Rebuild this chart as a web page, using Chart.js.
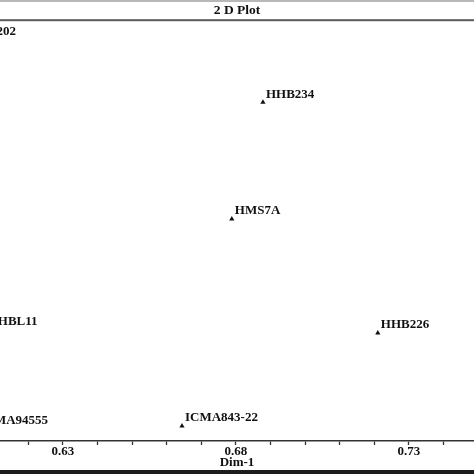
<!DOCTYPE html>
<html>
<head>
<meta charset="utf-8">
<script src="https://cdn.jsdelivr.net/npm/chart.js@4/dist/chart.umd.min.js"></script>
<style>
  html, body { margin: 0; padding: 0; background: #fff; }
  #wrap { width: 474px; height: 474px; }
</style>
</head>
<body>
<div id="wrap"><canvas id="plot" width="474" height="474"></canvas></div>
<script>
// Genotypes and their coordinates (Dim-1, Dim-2)
const names = ["HHB202", "HHB234", "HMS7A", "HBL11", "HHB226", "ICMA94555", "ICMA843-22"];
const dim1 = [0.6016, 0.6878, 0.6788, 0.6103, 0.7210, 0.6050, 0.6644];
const dim2 = [0.744, 0.723, 0.684, 0.647, 0.646, 0.614, 0.615];
const labelTicks = [0.63, 0.68, 0.73];

const serif = "'Liberation Serif', 'Times New Roman', serif";

// Cadre: bande grise en haut, trait sous le titre, bande noire en bas
const framePlugin = {
  id: "frame",
  beforeDraw(chart) {
    const ctx = chart.ctx;
    ctx.save();
    ctx.fillStyle = "#fff";
    ctx.fillRect(0, 0, chart.width, chart.height);
    ctx.restore();
  },
  afterDraw(chart) {
    const ctx = chart.ctx;
    const area = chart.chartArea;
    ctx.save();
    ctx.fillStyle = "#b8b8b8";
    ctx.fillRect(0, 0, chart.width, 2);
    ctx.fillStyle = "#5a5a5a";
    ctx.fillRect(0, area.top - 2, chart.width, 2);
    ctx.fillStyle = "#1c1c1c";
    ctx.fillRect(0, chart.height - 4, chart.width, 4);
    ctx.restore();
  },
};

// Étiquettes des points
const labelPlugin = {
  id: "pointLabels",
  afterDatasetsDraw(chart) {
    const ctx = chart.ctx;
    const meta = chart.getDatasetMeta(0);
    ctx.save();
    ctx.font = "bold 13px " + serif;
    ctx.fillStyle = "#111";
    ctx.textBaseline = "middle";
    ctx.textAlign = "left";
    meta.data.forEach((pt, i) => {
      ctx.fillText(names[i], pt.x + 3, pt.y - 8);
    });
    ctx.restore();
  },
};

new Chart(document.getElementById("plot"), {
  type: "scatter",
  data: {
    datasets: [
      {
        data: dim1.map((x, i) => ({ x: x, y: dim2[i] })),
        pointStyle: "triangle",
        pointRadius: 3,
        backgroundColor: "#111",
        borderColor: "#111",
        borderWidth: 0,
      },
    ],
  },
  options: {
    responsive: false,
    animation: false,
    layout: { autoPadding: false, padding: { top: 0, bottom: 4, left: 0, right: 0 } },
    plugins: {
      legend: { display: false },
      tooltip: { enabled: false },
      title: {
        display: true,
        text: "2 D Plot",
        color: "#111",
        font: { family: serif, size: 13.5, weight: "bold" },
        padding: { top: 2, bottom: 3 },
      },
    },
    scales: {
      x: {
        type: "linear",
        min: 0.6118,
        max: 0.7488,
        border: { display: true, color: "#333", width: 1.5 },
        grid: { drawOnChartArea: false, tickLength: 4, tickColor: "#333", tickWidth: 1.3 },
        ticks: {
          stepSize: 0.01,
          includeBounds: false,
          autoSkip: false,
          maxRotation: 0,
          padding: 0,
          color: "#111",
          font: { family: serif, size: 13, weight: "bold", lineHeight: 1 },
          callback: (v) => {
            const hit = labelTicks.find((t) => Math.abs(t - v) < 1e-6);
            return hit !== undefined ? hit.toFixed(2) : "";
          },
        },
        title: {
          display: true,
          text: "Dim-1",
          color: "#111",
          font: { family: serif, size: 13, weight: "bold", lineHeight: 1 },
          padding: { top: -2, bottom: 1 },
        },
      },
      y: {
        type: "linear",
        min: 0.61,
        max: 0.75,
        display: false,
      },
    },
  },
  plugins: [framePlugin, labelPlugin],
});
</script>
</body>
</html>
